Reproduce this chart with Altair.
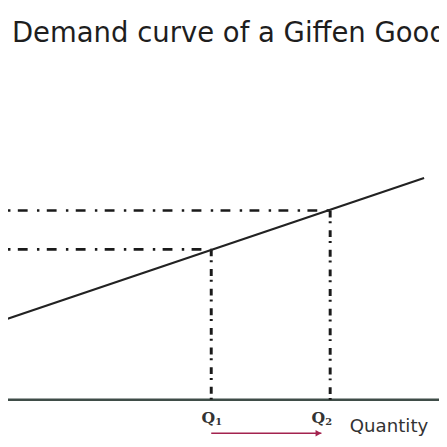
import altair as alt
import pandas as pd

# ---- values ----
title_text = "Demand curve of a Giffen Good"
curve_q = [0.0, 9.66]          # quantity at the ends of the demand curve
curve_p = [2.0, 5.65]          # price at the ends of the demand curve
q_points = [4.81, 7.52]        # Q1, Q2
p_points = [3.83, 4.82]        # prices belonging to Q1, Q2
q_letters = ["Q", "Q"]
q_subs = ["1", "2"]
axis_q = [0.0, 10.0]           # horizontal axis extent
arrow_q = [4.81, 7.32]         # arrow from Q1 towards Q2
x_label = "Quantity"

curve_df = pd.DataFrame({"q": curve_q, "p": curve_p})
pts_df = pd.DataFrame({"q": q_points, "p": p_points, "lab": q_letters, "sub": q_subs,
                       "zero": [0.0, 0.0]})
axis_df = pd.DataFrame({"q": [axis_q[0]], "q2": [axis_q[1]], "p": [0.0]})
arrow_df = pd.DataFrame({"q": [arrow_q[0]], "q2": [arrow_q[1]]})
head_df = pd.DataFrame({"q": [arrow_q[1]]})
qlab_df = pd.DataFrame({"q": [q_points[1]], "lab": [x_label]})
title_df = pd.DataFrame({"t": [title_text]})

xs = alt.Scale(domain=[0, 10], range=[-8, 439], nice=False)
ys = alt.Scale(domain=[0, 10], range=[395, -5], nice=False)

X = lambda f="q": alt.X(f"{f}:Q", scale=xs, axis=None)
Y = lambda f="p": alt.Y(f"{f}:Q", scale=ys, axis=None)
Y0 = alt.Y("zero:Q", scale=ys, axis=None)

axis_line = alt.Chart(axis_df).mark_rule(color="#3f4d48", strokeWidth=2.6).encode(
    x=X(), x2="q2:Q", y=Y()
)

h_rules = alt.Chart(pts_df).mark_rule(
    color="#1a1a1a", strokeWidth=2.6, strokeDash=[2.5, 7.5, 10, 9.5], strokeDashOffset=21.5
).encode(x=alt.X("zero:Q", scale=xs, axis=None), x2="q:Q", y=Y())

v_rules = alt.Chart(pts_df).mark_rule(
    color="#1a1a1a", strokeWidth=3, strokeDash=[7, 4, 2, 7]
).encode(x=X(), y=Y(), y2="zero:Q")

curve = alt.Chart(curve_df).mark_line(color="#222222", strokeWidth=2.2).encode(x=X(), y=Y())

def q_label(row, dx):
    d = pts_df.iloc[[row]]
    letter = alt.Chart(d).mark_text(
        align="left", baseline="alphabetic", dx=dx, dy=24, font="DejaVu Serif",
        fontWeight="bold", fontSize=16, color="#333333"
    ).encode(x=X(), y=Y0, text="lab:N")
    sub = alt.Chart(d).mark_text(
        align="left", baseline="alphabetic", dx=dx + 14, dy=26, font="DejaVu Serif",
        fontWeight="bold", fontSize=10, color="#333333"
    ).encode(x=X(), y=Y0, text="sub:N")
    return letter + sub

lab1 = q_label(0, -10)
lab2 = q_label(1, -19)

qty = alt.Chart(qlab_df).mark_text(
    align="left", baseline="alphabetic", dx=20, fontSize=18.5, font="DejaVu Sans",
    color="#333333"
).encode(x=X(), y=alt.datum(-0.82, scale=ys), text="lab:N")

arrow = alt.Chart(arrow_df).mark_rule(color="#a3234f", strokeWidth=1.6).encode(
    x=X(), x2="q2:Q", y=alt.datum(-0.85, scale=ys)
)
head = alt.Chart(head_df).mark_point(
    shape="triangle-right", filled=True, color="#a3234f", size=45, opacity=1, xOffset=-3
).encode(x=X(), y=alt.datum(-0.85, scale=ys))

title = alt.Chart(title_df).mark_text(
    align="left", baseline="alphabetic", font="DejaVu Sans", fontSize=28, color="#1e1e1e"
).encode(x=alt.value(4), y=alt.value(31), text="t:N")

chart = alt.layer(axis_line, h_rules, v_rules, curve, lab1, lab2, qty, arrow, head, title).properties(
    width=439, height=439,
    padding=0,
    autosize=alt.AutoSizeParams(type="none"),
).configure_view(stroke=None)

chart.save("out.html", embed_options={"renderer": "svg", "actions": False})
